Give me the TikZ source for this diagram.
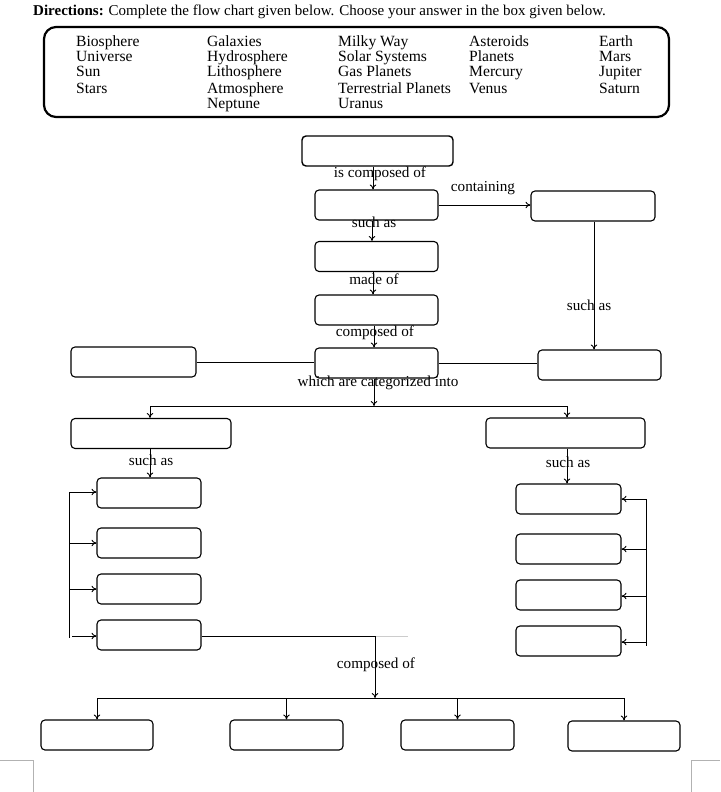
\documentclass[tikz,border=0pt]{standalone}
\usepackage{fontspec}
\setmainfont{Liberation Serif}
\usetikzlibrary{arrows.meta,calc}
\begin{document}
\begin{tikzpicture}[x=1pt,y=1pt,
  txt/.style={font=\fontsize{15.6}{18}\selectfont, inner sep=0pt, anchor=base west},
  lbl/.style={font=\fontsize{15.2}{18}\selectfont, inner sep=0pt, anchor=base},
  bx/.style={draw, rounded corners=4pt, line width=1.1pt, minimum width=#1, minimum height=30pt, inner sep=0pt},
  ln/.style={line width=0.9pt},
  arr/.style={line width=0.9pt, -{To[length=5pt,width=6.5pt]}}]
\useasboundingbox (0,0) rectangle (720,-792);
% heading
\node[txt, font=\fontsize{15}{18}\selectfont] (head) at (33,-16) {\textbf{Directions:} Complete the flow chart given below. Choose your answer in the box given below.};
% word box
\draw[line width=2.2pt, rounded corners=12pt] (44,-27) rectangle (669,-117);
\node[txt] (a1) at (76,-47) {Biosphere};
\node[txt] (a2) at (76,-62) {Universe};
\node[txt] (a3) at (76,-77) {Sun};
\node[txt] (a4) at (76,-93) {Stars};
\node[txt] (b1) at (207,-47) {Galaxies};
\node[txt] (b2) at (207,-62) {Hydrosphere};
\node[txt] (b3) at (207,-77) {Lithosphere};
\node[txt] (b4) at (207,-93) {Atmosphere};
\node[txt] (b5) at (207,-108) {Neptune};
\node[txt] (c1) at (338,-47) {Milky Way};
\node[txt] (c2) at (338,-62) {Solar Systems};
\node[txt] (c3) at (338,-77) {Gas Planets};
\node[txt] (c4) at (338,-93) {Terrestrial Planets};
\node[txt] (c5) at (338,-108) {Uranus};
\node[txt] (d1) at (469,-47) {Asteroids};
\node[txt] (d2) at (469,-62) {Planets};
\node[txt] (d3) at (469,-77) {Mercury};
\node[txt] (d4) at (469,-93) {Venus};
\node[txt] (e1) at (599,-47) {Earth};
\node[txt] (e2) at (599,-62) {Mars};
\node[txt] (e3) at (599,-77) {Jupiter};
\node[txt] (e4) at (599,-93) {Saturn};
% boxes
\node[bx=151pt, line width=1.4pt] (B1) at (377.5,-151) {};
\node[bx=123pt] (B2) at (376.5,-205) {};
\node[bx=124pt] (B3) at (593,-206) {};
\node[bx=123pt] (B4) at (376.5,-256.5) {};
\node[bx=123pt] (B5) at (376.5,-310) {};
\node[bx=123pt] (B6) at (376.5,-363) {};
\node[bx=125pt] (B7) at (133.5,-362) {};
\node[bx=123pt] (B8) at (599.5,-365) {};
\node[bx=160pt] (B9) at (151,-433.5) {};
\node[bx=159pt] (B10) at (565.5,-433) {};
\node[bx=104pt] (L1) at (149,-493) {};
\node[bx=104pt] (L2) at (149,-543) {};
\node[bx=104pt] (L3) at (149,-589) {};
\node[bx=104pt] (L4) at (149,-635) {};
\node[bx=105pt] (R1) at (568.5,-499) {};
\node[bx=105pt] (R2) at (568.5,-549) {};
\node[bx=105pt] (R3) at (568.5,-595) {};
\node[bx=105pt] (R4) at (568.5,-641) {};
\node[bx=112pt] (D1) at (97,-735) {};
\node[bx=113pt] (D2) at (286.5,-735) {};
\node[bx=113pt] (D3) at (457.5,-735) {};
\node[bx=112pt] (D4) at (624,-736) {};
% junction coordinates
\coordinate (J1) at (374,-406);
\coordinate (LBt) at (69,-492);
\coordinate (LBb) at (69,-638);
\coordinate (RBt) at (646,-499);
\coordinate (RBb) at (646,-646);
\coordinate (C2) at (375,-636);
\coordinate (C2e) at (408,-636);
\coordinate (J2) at (375,-698);
% connectors
\draw[arr] (B1.south -| 373,0) -- (B2.north -| 373,0);
\draw[arr] (B2.east) -- (B2.east -| B3.west);
\draw[arr] (B2.south -| 372,0) -- (B4.north -| 372,0);
\draw[arr] (B4.south -| 373,0) -- (B5.north -| 373,0);
\draw[arr] (B5.south -| 374,0) -- (B6.north -| 374,0);
\draw[arr] (B3.south -| 594,0) -- (B8.north -| 594,0);
\draw[ln] (B7.east) -- (B7.east -| B6.west);
\draw[ln] (B6.east) -- (B6.east -| B8.west);
\draw[arr] (B6.south -| J1) -- (J1);
\draw[ln] (J1 -| 150,0) -- (J1 -| 567,0);
\draw[arr] (J1 -| 150,0) -- (B9.north -| 150,0);
\draw[arr] (J1 -| 567,0) -- (B10.north -| 567,0);
\draw[arr] (B9.south -| 150,0) -- (L1.north -| 150,0);
\draw[arr] (B10.south -| 567,0) -- (R1.north -| 567,0);
\draw[ln] (LBt) -- (LBb);
\draw[arr] (LBt) -- (LBt -| L1.west);
\draw[arr] (LBt |- L2.west) -- (L2.west);
\draw[arr] (LBt |- L3.west) -- (L3.west);
\draw[arr] (72,0 |- C2) -- (L4.west |- C2);
\draw[ln] (RBt) -- (RBb);
\draw[arr] (RBt) -- (RBt -| R1.east);
\draw[arr] (RBt |- R2.east) -- (R2.east);
\draw[arr] (RBt |- 0,-596) -- (R3.east |- 0,-596);
\draw[arr] (RBt |- 0,-642) -- (R4.east |- 0,-642);
\draw[ln] (L4.east |- C2) -- (C2);
\draw[line width=0.9pt, gray!40] (C2) -- (C2e);
\draw[arr] (C2) -- (J2);
\draw[ln] (J2 -| D1.north) -- (J2 -| D4.north);
\draw[arr] (J2 -| D1.north) -- (D1.north);
\draw[arr] (J2 -| D2.north) -- (D2.north);
\draw[arr] (J2 -| D3.north) -- (D3.north);
\draw[arr] (J2 -| D4.north) -- (D4.north);
% labels
\node[lbl] (l1) at (380,-177) {is composed of};
\node[lbl] (l2) at (483,-191) {containing};
\node[lbl] (l3) at (374,-227) {such as};
\node[lbl] (l4) at (374,-284) {made of};
\node[lbl] (l5) at (375,-336) {composed of};
\node[lbl] (l6) at (589,-310) {such as};
\node[lbl] (l7) at (378,-386) {which are categorized into};
\node[lbl] (l8) at (151,-465) {such as};
\node[lbl] (l9) at (568,-467) {such as};
\node[lbl] (l10) at (376,-668) {composed of};
% page corner marks
\draw[gray!60, line width=0.6pt] (0,-760) -- (33,-760) -- (33,-792);
\draw[gray!60, line width=0.6pt] (720,-760) -- (691,-760) -- (691,-792);
\end{tikzpicture}
\end{document}
